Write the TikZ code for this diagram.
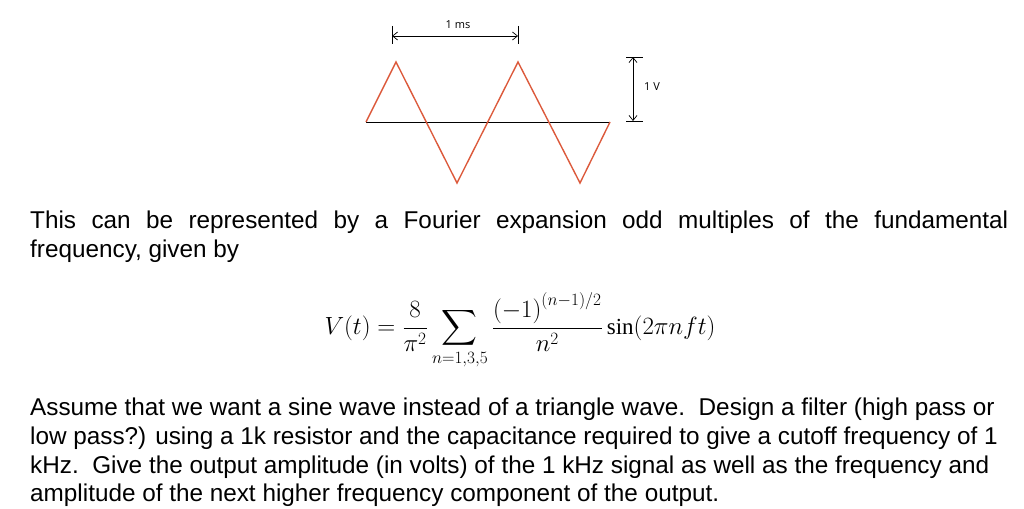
\documentclass[tikz,border=0pt]{standalone}
\usepackage{fontspec}
\usepackage{amsmath}
\setmainfont{Liberation Sans}
\newfontfamily\smallsans{Open Sans}
\newfontfamily\serifop{Liberation Serif}
\usetikzlibrary{arrows.meta}
\begin{document}
\begin{tikzpicture}[x=1pt,y=-1pt,
  wave/.style={draw={rgb,255:red,220;green,90;blue,60},line width=1.4pt,line join=miter},
  dim/.style={draw=black,line width=0.7pt,{Straight Barb[length=5pt,width=8pt]}-{Straight Barb[length=5pt,width=8pt]}},
  tick/.style={draw=black,line width=0.7pt},
  txt/.style={anchor=north west,inner sep=0pt,font=\fontsize{24.3}{28.7}\selectfont,align=left},
  lab/.style={inner sep=0pt,font=\smallsans\fontsize{11}{12}\selectfont}]
\useasboundingbox (0,0) rectangle (1024,508);
% waveform
\coordinate (b0) at (366,122); \coordinate (b1) at (610,122);
\draw[line width=0.8pt] (b0) -- (b1);
\coordinate (p0) at (366,122); \coordinate (p1) at (396,62); \coordinate (p2) at (457,183);
\coordinate (p3) at (518,62); \coordinate (p4) at (580,183); \coordinate (p5) at (610,122);
\draw[wave] (p0) -- (p1) -- (p2) -- (p3) -- (p4) -- (p5);
% 1 ms dimension
\coordinate (ta1) at (392,26); \coordinate (tb1) at (392,44);
\coordinate (ta2) at (518,26); \coordinate (tb2) at (518,44);
\draw[tick] (ta1) -- (tb1); \draw[tick] (ta2) -- (tb2);
\coordinate (m1) at (392,36); \coordinate (m2) at (518,36);
\draw[dim] (m1) -- (m2);
\node[lab] (ms) at (458,25) {1 ms};
% 1 V dimension
\coordinate (va1) at (626,57); \coordinate (va2) at (643,57);
\coordinate (vb1) at (626,121); \coordinate (vb2) at (643,121);
\draw[tick] (va1) -- (va2); \draw[tick] (vb1) -- (vb2);
\coordinate (v1) at (633,57); \coordinate (v2) at (633,121);
\draw[dim] (v1) -- (v2);
\node[lab] (volt) at (652,87) {1 V};
% text
\node[txt] (para1) at (30,211) {\makebox[978pt][s]{This can be represented by a Fourier expansion odd multiples of the fundamental}\\frequency, given by};
\node[inner sep=0pt,font=\fontsize{23}{29}\selectfont] (eq) at (520,331)
  {$\displaystyle V(t)=\frac{8}{\pi^2}\sum_{n=1,3,5}\frac{\left(-1\right)^{(n-1)/2}}{n^2}\,\text{\serifop sin}\!\left(2\pi n f t\right)$};
\node[txt] (para2) at (30,398) {Assume that we want a sine wave instead of a triangle wave.\ \ Design a filter (high pass or\\low pass?) using a 1k resistor and the capacitance required to give a cutoff frequency of 1\\kHz.\ \ Give the output amplitude (in volts) of the 1 kHz signal as well as the frequency and\\amplitude of the next higher frequency component of the output.};
\end{tikzpicture}
\end{document}
